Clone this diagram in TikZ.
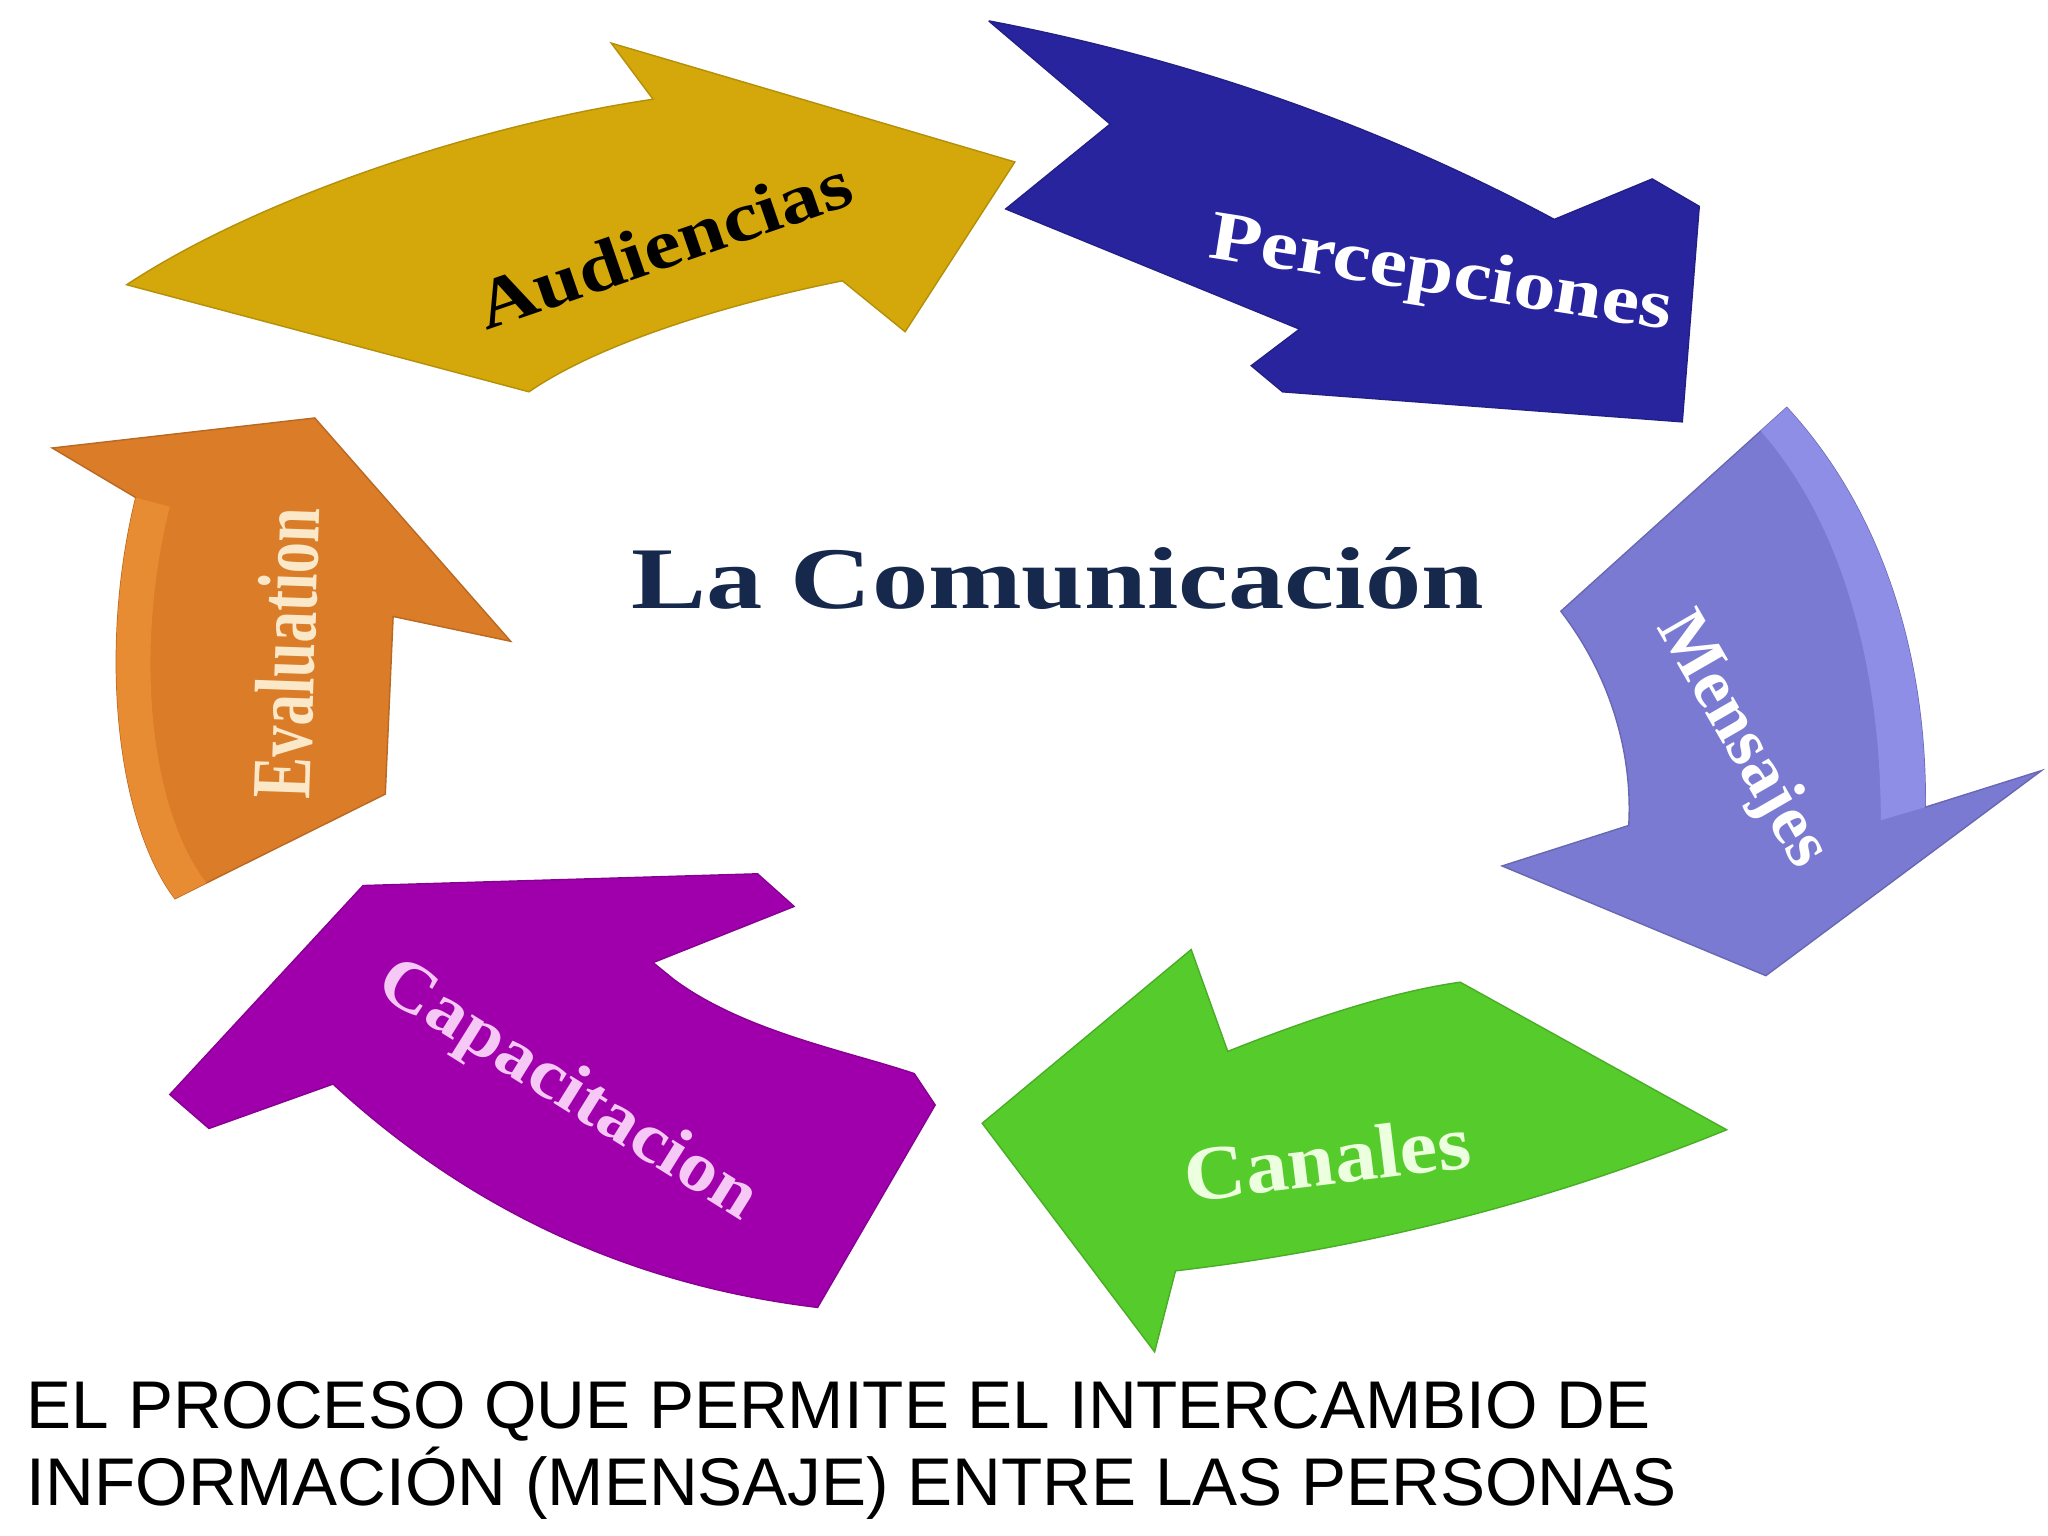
\documentclass[tikz,border=0pt]{standalone}
\usepackage{fontspec}
\setmainfont{Liberation Serif}
\newfontfamily\capfont{Liberation Sans}
\definecolor{audgold}{RGB}{212,168,10}
\definecolor{perblue}{RGB}{40,36,158}
\definecolor{menlav}{RGB}{122,122,210}
\definecolor{menlight}{RGB}{142,142,230}
\definecolor{cangreen}{RGB}{86,204,44}
\definecolor{cantext}{RGB}{236,255,222}
\definecolor{cappurple}{RGB}{160,0,172}
\definecolor{captext}{RGB}{246,200,246}
\definecolor{evaorange}{RGB}{218,124,40}
\definecolor{evalight}{RGB}{232,140,52}
\definecolor{evatext}{RGB}{250,232,200}
\definecolor{titlenavy}{RGB}{22,40,76}
\tikzset{
  arrowbody/.style={draw=#1!85!black, line width=0.4pt, fill=#1},
  steplabel/.style={font=\fontsize{20}{24}\selectfont\bfseries, inner sep=0pt},
  caption/.style={anchor=base west, inner sep=0pt, font=\capfont\fontsize{19.2}{23}\selectfont},
}
\begin{document}
\begin{tikzpicture}[x=0.01306cm, y=-0.01306cm]
\useasboundingbox[fill=white] (0,0) rectangle (1568,1176);
% Audiencias
\draw[arrowbody=audgold] (97,218) .. controls (200,150) and (370,95) .. (500,76) -- (468,33) -- (777,124)
  -- (693,254) -- (645,215) .. controls (560,232) and (460,262) .. (405,300) -- cycle;
% Percepciones
\draw[arrowbody=perblue] (757,16) -- (850,95) -- (770,160) -- (995,252) -- (958,280) -- (982,300)
  -- (1288,323) -- (1301,158) -- (1265,137) -- (1190,168) .. controls (1054,95) and (909,45) .. (757,16);
% Mensajes
\draw[arrowbody=menlav] (1368,312) -- (1195,468) .. controls (1235,520) and (1250,580) .. (1247,632)
  -- (1150,663) -- (1352,747) -- (1563,590) -- (1474,618) .. controls (1475,500) and (1440,390) .. cycle;
\fill[menlight] (1368,312) .. controls (1440,390) and (1475,500) .. (1474,618) -- (1440,628)
  .. controls (1440,510) and (1410,400) .. (1348,330) -- cycle;
% Canales
\draw[arrowbody=cangreen] (752,860) -- (912,727) -- (940,805) .. controls (990,785) and (1060,760) .. (1118,752)
  -- (1322,865) .. controls (1186,920) and (1046,956) .. (900,973) -- (884,1035) -- cycle;
% Capacitacion
\draw[arrowbody=cappurple] (130,838) -- (278,678) -- (580,669) -- (608,694) -- (500,737) -- (516,750)
  .. controls (570,790) and (650,805) .. (700,822) -- (716,846) -- (626,1001)
  .. controls (484,984) and (360,927) .. (255,830) -- (160,864) -- cycle;
% Evaluation
\draw[arrowbody=evaorange] (40,343) -- (241,320) -- (391,491) -- (301,472) -- (295,608) -- (134,688)
  .. controls (90,630) and (75,500) .. (104,381) -- cycle;
\fill[evalight] (104,381) .. controls (75,500) and (90,630) .. (134,688) -- (158,676)
  .. controls (115,620) and (102,500) .. (130,388) -- cycle;

\node[steplabel, rotate=19] (audiencias) at (508,187) {\scalebox{1.18}[1]{Audiencias}};
\node[steplabel, rotate=-9, text=white] (percepciones) at (1103,212) {\scalebox{1.2}[1]{Percepciones}};
\node[steplabel, rotate=-60, text=white] (mensajes) at (1333,567) {Mensajes};
\node[steplabel, rotate=7, text=cantext, font=\fontsize{22}{26}\selectfont\bfseries] (canales) at (1016,887) {\scalebox{1.1}[1]{Canales}};
\node[steplabel, rotate=-32, text=captext] (capacitacion) at (434,836) {\scalebox{1.1}[1]{Capacitacion}};
\node[steplabel, rotate=88, text=evatext, font=\fontsize{24}{28}\selectfont\bfseries] (evaluation) at (219,500) {\scalebox{0.74}[1]{Evaluation}};
\node[steplabel, text=titlenavy, font=\fontsize{25}{30}\selectfont\bfseries] (titulo) at (810,443) {\scalebox{1.28}[1]{La Comunicación}};

\node[caption] (linea1) at (20,1094) {EL PROCESO QUE PERMITE EL INTERCAMBIO DE};
\node[caption] (linea2) at (20,1153) {INFORMACIÓN (MENSAJE) ENTRE LAS PERSONAS};
\end{tikzpicture}
\end{document}
